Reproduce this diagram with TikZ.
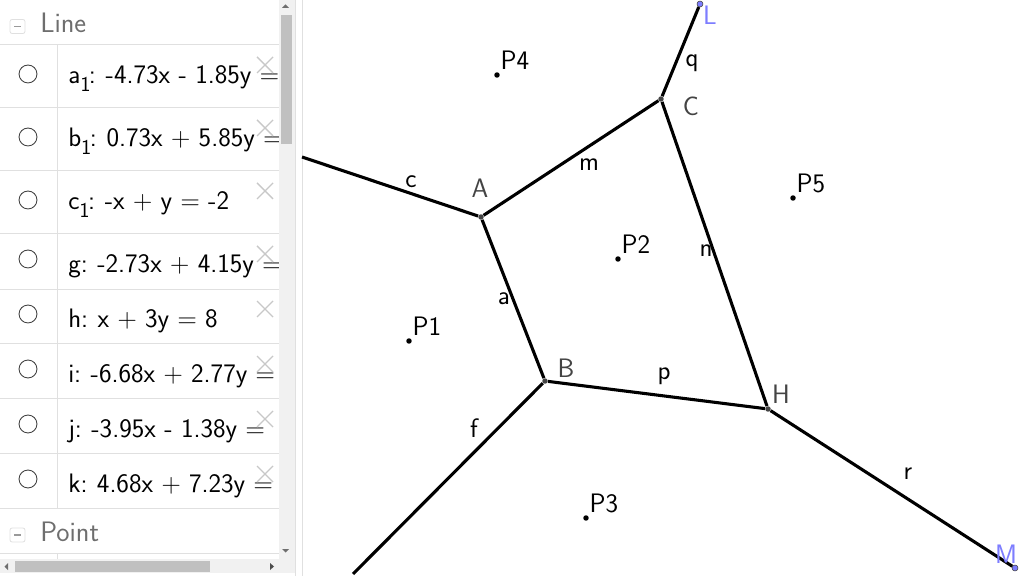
\documentclass[tikz,border=0pt]{standalone}
\usepackage{fix-cm}
\usepackage{fontspec}
\usepackage{tikz}
\usepackage{xcolor}
\usetikzlibrary{positioning}
\definecolor{rulegray}{RGB}{224,224,224}
\definecolor{trackgray}{RGB}{241,241,241}
\definecolor{thumbgray}{RGB}{192,192,192}
\definecolor{crossgray}{RGB}{200,200,200}
\definecolor{headgray}{RGB}{110,110,110}
\definecolor{labelgray}{RGB}{68,68,68}
\definecolor{freeblue}{RGB}{125,125,255}
\newcommand{\sub}[1]{\raisebox{-0.3em}{\fontsize{15}{16}\selectfont #1}\hspace{-1.2pt}}
\tikzset{
    itemtext/.style={anchor=base west, inner sep=0pt, text=black, font=\sffamily\fontsize{19}{22}\selectfont},
    headtext/.style={anchor=base west, inner sep=0pt, text=headgray, font=\sffamily\fontsize{20}{24}\selectfont},
    lbl/.style={inner sep=0pt, font=\sffamily\fontsize{19}{22}\selectfont},
    edgelbl/.style={inner sep=0pt, font=\sffamily\fontsize{19}{22}\selectfont},
    vertex/.style={circle, fill=labelgray, inner sep=0pt, minimum size=5.5*0.709pt},
    freepoint/.style={circle, fill=freeblue, draw=labelgray, line width=0.4pt, inner sep=0pt, minimum size=6*0.709pt},
    site/.style={circle, fill=black, inner sep=0pt, minimum size=5.5*0.709pt},
    radio/.style={circle, draw=black!75, line width=0.6pt, fill=white, inner sep=0pt, minimum size=18*0.709pt},
    edge/.style={line width=2.2pt, black}
}
\begin{document}
\begin{tikzpicture}[x=0.025cm, y=-0.025cm]
    \useasboundingbox (0,0) rectangle (1020,576);

    % Row rules
    \foreach \ry in {44,107,170,233,289,343,398,453,508,553} {
        \draw[rulegray, line width=0.7pt] (0,\ry) -- (280,\ry);
    }
    \draw[rulegray, line width=0.7pt] (57,44) -- (57,508);
    \draw[rulegray, line width=0.7pt] (57,553) -- (57,559);

    % Group heads
    \foreach \hname/\hy/\htxt in {headline/32.5/Line, headpoint/541/Point} {
        \draw[rulegray, rounded corners=1.5pt, line width=0.6pt] (10,\hy-13) rectangle (25,\hy+1);
        \draw[headgray!70, line width=0.8pt] (14,\hy-6) -- (21,\hy-6);
        \node[headtext] (\hname) at (40,\hy) {\htxt};
    }

    % Algebra rows
    \foreach \rname/\ry/\rtxt in {
        a1/83.5/{a\sub{1}:\hspace{-1pt} -4.73x - 1.85y $=$},
        b1/146.5/{b\sub{1}:\hspace{-1pt} 0.73x $+$ 5.85y $=$},
        c1/209.5/{c\sub{1}:\hspace{-1pt} -x $+$ y $=$ -2},
        g/272.5/{g:\hspace{-1.2pt} -2.73x $+$ 4.15y $=$},
        h/327.5/{h:\hspace{-1.2pt} x $+$ 3y $=$ 8},
        i/382.5/{i:\hspace{-1.2pt} -6.68x $+$ 2.77y $=$},
        j/437.5/{j:\hspace{-1.2pt} -3.95x - 1.38y $=$},
        k/492.5/{k:\hspace{-1.2pt} 4.68x $+$ 7.23y $=$}} {
        \node[itemtext] (row\rname) at (68,\ry) {\rtxt};
    }

    % Radio buttons
    \foreach \ry in {74,137,200,259,314,369,424,479} {
        \node[radio] (radio\ry) at (28,\ry) {};
    }

    % Delete crosses
    \foreach \ry in {65,128,191,254,309,364,419,474} {
        \draw[crossgray, line width=1pt] (257,\ry-8) -- (273,\ry+8);
        \draw[crossgray, line width=1pt] (273,\ry-8) -- (257,\ry+8);
    }

    % Scroll bars
    \fill[white] (279,0) rectangle (302,576);
    \fill[trackgray] (279,0) rectangle (295,559);
    \fill[thumbgray] (281,15) rectangle (292,144);
    \fill[trackgray] (0,559) rectangle (295,573);
    \fill[thumbgray] (15,561) rectangle (210,572);
    \fill[headgray] (282,8) -- (289,8) -- (285.5,4.5) -- cycle;
    \fill[headgray] (282,549) -- (289,549) -- (285.5,552.5) -- cycle;
    \fill[headgray] (8,563) -- (8,570) -- (4.5,566.5) -- cycle;
    \fill[black!70] (270,563) -- (270,570) -- (274,566.5) -- cycle;
    \draw[rulegray, line width=0.7pt] (295,0) -- (295,576);
    \draw[rulegray, line width=0.7pt] (302,0) -- (302,576);

    % Vertices
    \node[vertex] (A) at (481,217) {};
    \node[vertex] (B) at (545,381) {};
    \node[vertex] (C) at (661,99) {};
    \node[vertex] (H) at (768,409) {};
    \node[freepoint] (L) at (700,4) {};
    \node[freepoint] (M) at (1015,568) {};
    \coordinate (cend) at (302,157);
    \coordinate (fend) at (353,574);

    % Edges
    \draw[edge] (A) -- (B);
    \draw[edge] (A) -- (C);
    \draw[edge] (A) -- (cend);
    \draw[edge] (B) -- (H);
    \draw[edge] (B) -- (fend);
    \draw[edge] (C) -- (H);
    \draw[edge] (C) -- (L);
    \draw[edge] (H) -- (M);

    % Sites
    \foreach \sname/\sx/\sy/\lx/\ly in {P1/409/341/427/326, P2/618/259/636/244, P3/586/518/604/503, P4/497/75/515/60, P5/793/198/811/183} {
        \node[site] (\sname) at (\sx,\sy) {};
        \node[lbl] (lbl\sname) at (\lx,\ly) {\sname};
    }

    % Vertex labels
    \foreach \vname/\lx/\ly in {A/480/188, B/566/368, C/691/106, H/781/394} {
        \node[lbl, text=labelgray] (lbl\vname) at (\lx,\ly) {\vname};
    }
    \node[lbl, text=freeblue] (lblL) at (710,15) {L};
    \node[lbl, text=freeblue] (lblM) at (1006,554) {M};

    % Edge labels
    \foreach \ename/\lx/\ly in {c/411/182, m/589/165, q/692/63.5, n/706/251, a/504/299, p/664/376, f/474/428, r/908/474} {
        \node[edgelbl] (lbl\ename) at (\lx,\ly) {\ename};
    }
\end{tikzpicture}
\end{document}
